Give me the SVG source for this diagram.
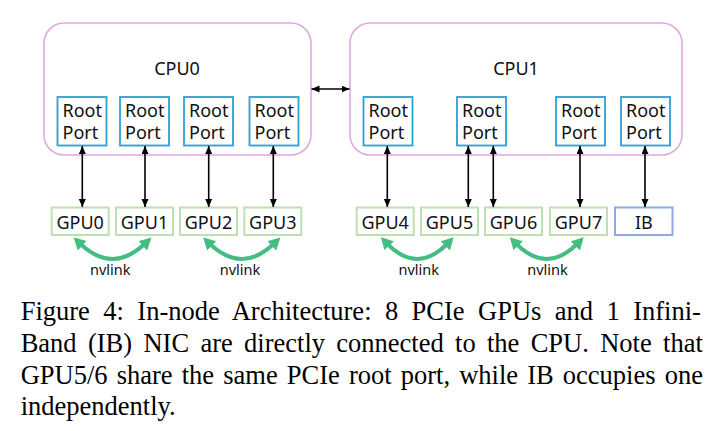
<svg xmlns="http://www.w3.org/2000/svg" width="720" height="431" viewBox="0 0 720 431">
<style>
.cpu{fill:#fff;stroke:#dfa8e0;stroke-width:1.6}
.rp{fill:#fff;stroke:#2c9fd6;stroke-width:1.8}
.gpu{fill:#fff;stroke:#bde0b3;stroke-width:2}
.ib{fill:#fff;stroke:#8ea9e6;stroke-width:2}
.t{font-family:"Noto Sans","Open Sans",sans-serif;font-size:18px;fill:#111}
.tc{text-anchor:middle}
.nv{font-family:"Noto Sans","Open Sans",sans-serif;font-size:14.5px;fill:#111;text-anchor:middle}
.bl{stroke:#000;stroke-width:1.6;fill:none;marker-start:url(#ab);marker-end:url(#ab)}
.gr{stroke:#45bd82;stroke-width:4;fill:none;marker-start:url(#ag);marker-end:url(#ag)}
.cap{font-family:"Liberation Serif","Times New Roman",serif;font-size:26.5px;fill:#000}
</style>
<defs>
<marker id="ab" markerUnits="userSpaceOnUse" markerWidth="10" markerHeight="8" refX="8" refY="3.5" orient="auto-start-reverse">
<path d="M0,0 L8,3.5 L0,7 z" fill="#000"/>
</marker>
<marker id="ag" markerUnits="userSpaceOnUse" markerWidth="14" markerHeight="14" refX="4" refY="6.5" orient="auto-start-reverse">
<path d="M0,0 L12,6.5 L0,13 z" fill="#45bd82"/>
</marker>
</defs>
<rect width="720" height="431" fill="#fff"/>

<g id="cpu0">
<rect class="cpu" x="44" y="23" width="267" height="132" rx="20"/>
<text class="t tc" x="177" y="75">CPU0</text>
</g>
<g id="cpu1">
<rect class="cpu" x="350" y="23" width="332" height="132" rx="20"/>
<text class="t tc" x="516" y="75">CPU1</text>
</g>

<g id="rp0"><rect class="rp" x="57.5" y="97" width="49" height="48.5"/><text class="t" x="62.5" y="117">Root</text><text class="t" x="62.5" y="139">Port</text></g>
<g id="rp1"><rect class="rp" x="120" y="97" width="49" height="48.5"/><text class="t" x="125" y="117">Root</text><text class="t" x="125" y="139">Port</text></g>
<g id="rp2"><rect class="rp" x="184" y="97" width="49" height="48.5"/><text class="t" x="189" y="117">Root</text><text class="t" x="189" y="139">Port</text></g>
<g id="rp3"><rect class="rp" x="249.5" y="97" width="49" height="48.5"/><text class="t" x="254.5" y="117">Root</text><text class="t" x="254.5" y="139">Port</text></g>
<g id="rp4"><rect class="rp" x="363.5" y="97" width="49" height="48.5"/><text class="t" x="368.5" y="117">Root</text><text class="t" x="368.5" y="139">Port</text></g>
<g id="rp5"><rect class="rp" x="457" y="97" width="49" height="48.5"/><text class="t" x="462" y="117">Root</text><text class="t" x="462" y="139">Port</text></g>
<g id="rp6"><rect class="rp" x="556" y="97" width="49" height="48.5"/><text class="t" x="561" y="117">Root</text><text class="t" x="561" y="139">Port</text></g>
<g id="rp7"><rect class="rp" x="621" y="97" width="49" height="48.5"/><text class="t" x="626" y="117">Root</text><text class="t" x="626" y="139">Port</text></g>

<g id="gpu0"><rect class="gpu" x="51.7" y="207.5" width="57" height="27.5"/><text class="t tc" x="80.2" y="228.5">GPU0</text></g>
<g id="gpu1"><rect class="gpu" x="116" y="207.5" width="57" height="27.5"/><text class="t tc" x="144.5" y="228.5">GPU1</text></g>
<g id="gpu2"><rect class="gpu" x="180" y="207.5" width="57" height="27.5"/><text class="t tc" x="208.5" y="228.5">GPU2</text></g>
<g id="gpu3"><rect class="gpu" x="244.3" y="207.5" width="57" height="27.5"/><text class="t tc" x="272.8" y="228.5">GPU3</text></g>
<g id="gpu4"><rect class="gpu" x="356.7" y="207.5" width="57" height="27.5"/><text class="t tc" x="385.2" y="228.5">GPU4</text></g>
<g id="gpu5"><rect class="gpu" x="421" y="207.5" width="57" height="27.5"/><text class="t tc" x="449.5" y="228.5">GPU5</text></g>
<g id="gpu6"><rect class="gpu" x="485" y="207.5" width="57" height="27.5"/><text class="t tc" x="513.5" y="228.5">GPU6</text></g>
<g id="gpu7"><rect class="gpu" x="550" y="207.5" width="57" height="27.5"/><text class="t tc" x="578.5" y="228.5">GPU7</text></g>
<g id="ib"><rect class="ib" x="615" y="207.5" width="57.5" height="27.5"/><text class="t tc" x="643.8" y="228.5">IB</text></g>

<g id="connectors">
<line class="bl" x1="311.5" y1="89" x2="349.5" y2="89"/>
<line class="bl" x1="82.3" y1="146" x2="82.3" y2="207"/>
<line class="bl" x1="145" y1="146" x2="145" y2="207"/>
<line class="bl" x1="208.7" y1="146" x2="208.7" y2="207"/>
<line class="bl" x1="273.3" y1="146" x2="273.3" y2="207"/>
<line class="bl" x1="387.3" y1="146" x2="387.3" y2="207"/>
<line class="bl" x1="468.3" y1="146" x2="468.3" y2="207"/>
<line class="bl" x1="493.3" y1="146" x2="493.3" y2="207"/>
<line class="bl" x1="580" y1="146" x2="580" y2="207"/>
<line class="bl" x1="645" y1="146" x2="645" y2="207"/>
<path class="gr" d="M79.4 243 Q112.5 275 145.6 243"/>
<path class="gr" d="M208.9 243 Q241.75 275 274.6 243"/>
<path class="gr" d="M386.4 243 Q417.25 275 448.1 243"/>
<path class="gr" d="M515.4 243 Q546.75 275 578.1 243"/>
<text class="nv" x="110.3" y="275">nvlink</text>
<text class="nv" x="240" y="275">nvlink</text>
<text class="nv" x="418.7" y="275">nvlink</text>
<text class="nv" x="547.5" y="275">nvlink</text>
</g>

<g id="caption" class="cap">
<text x="20.7" y="320" word-spacing="6.8">Figure 4: In-node Architecture: 8 PCIe GPUs and 1 Infini-</text>
<text x="20.7" y="352" word-spacing="4.7">Band (IB) NIC are directly connected to the CPU. Note that</text>
<text x="20.7" y="384" word-spacing="2.5">GPU5/6 share the same PCIe root port, while IB occupies one</text>
<text x="20.7" y="415">independently.</text>
</g>
</svg>
